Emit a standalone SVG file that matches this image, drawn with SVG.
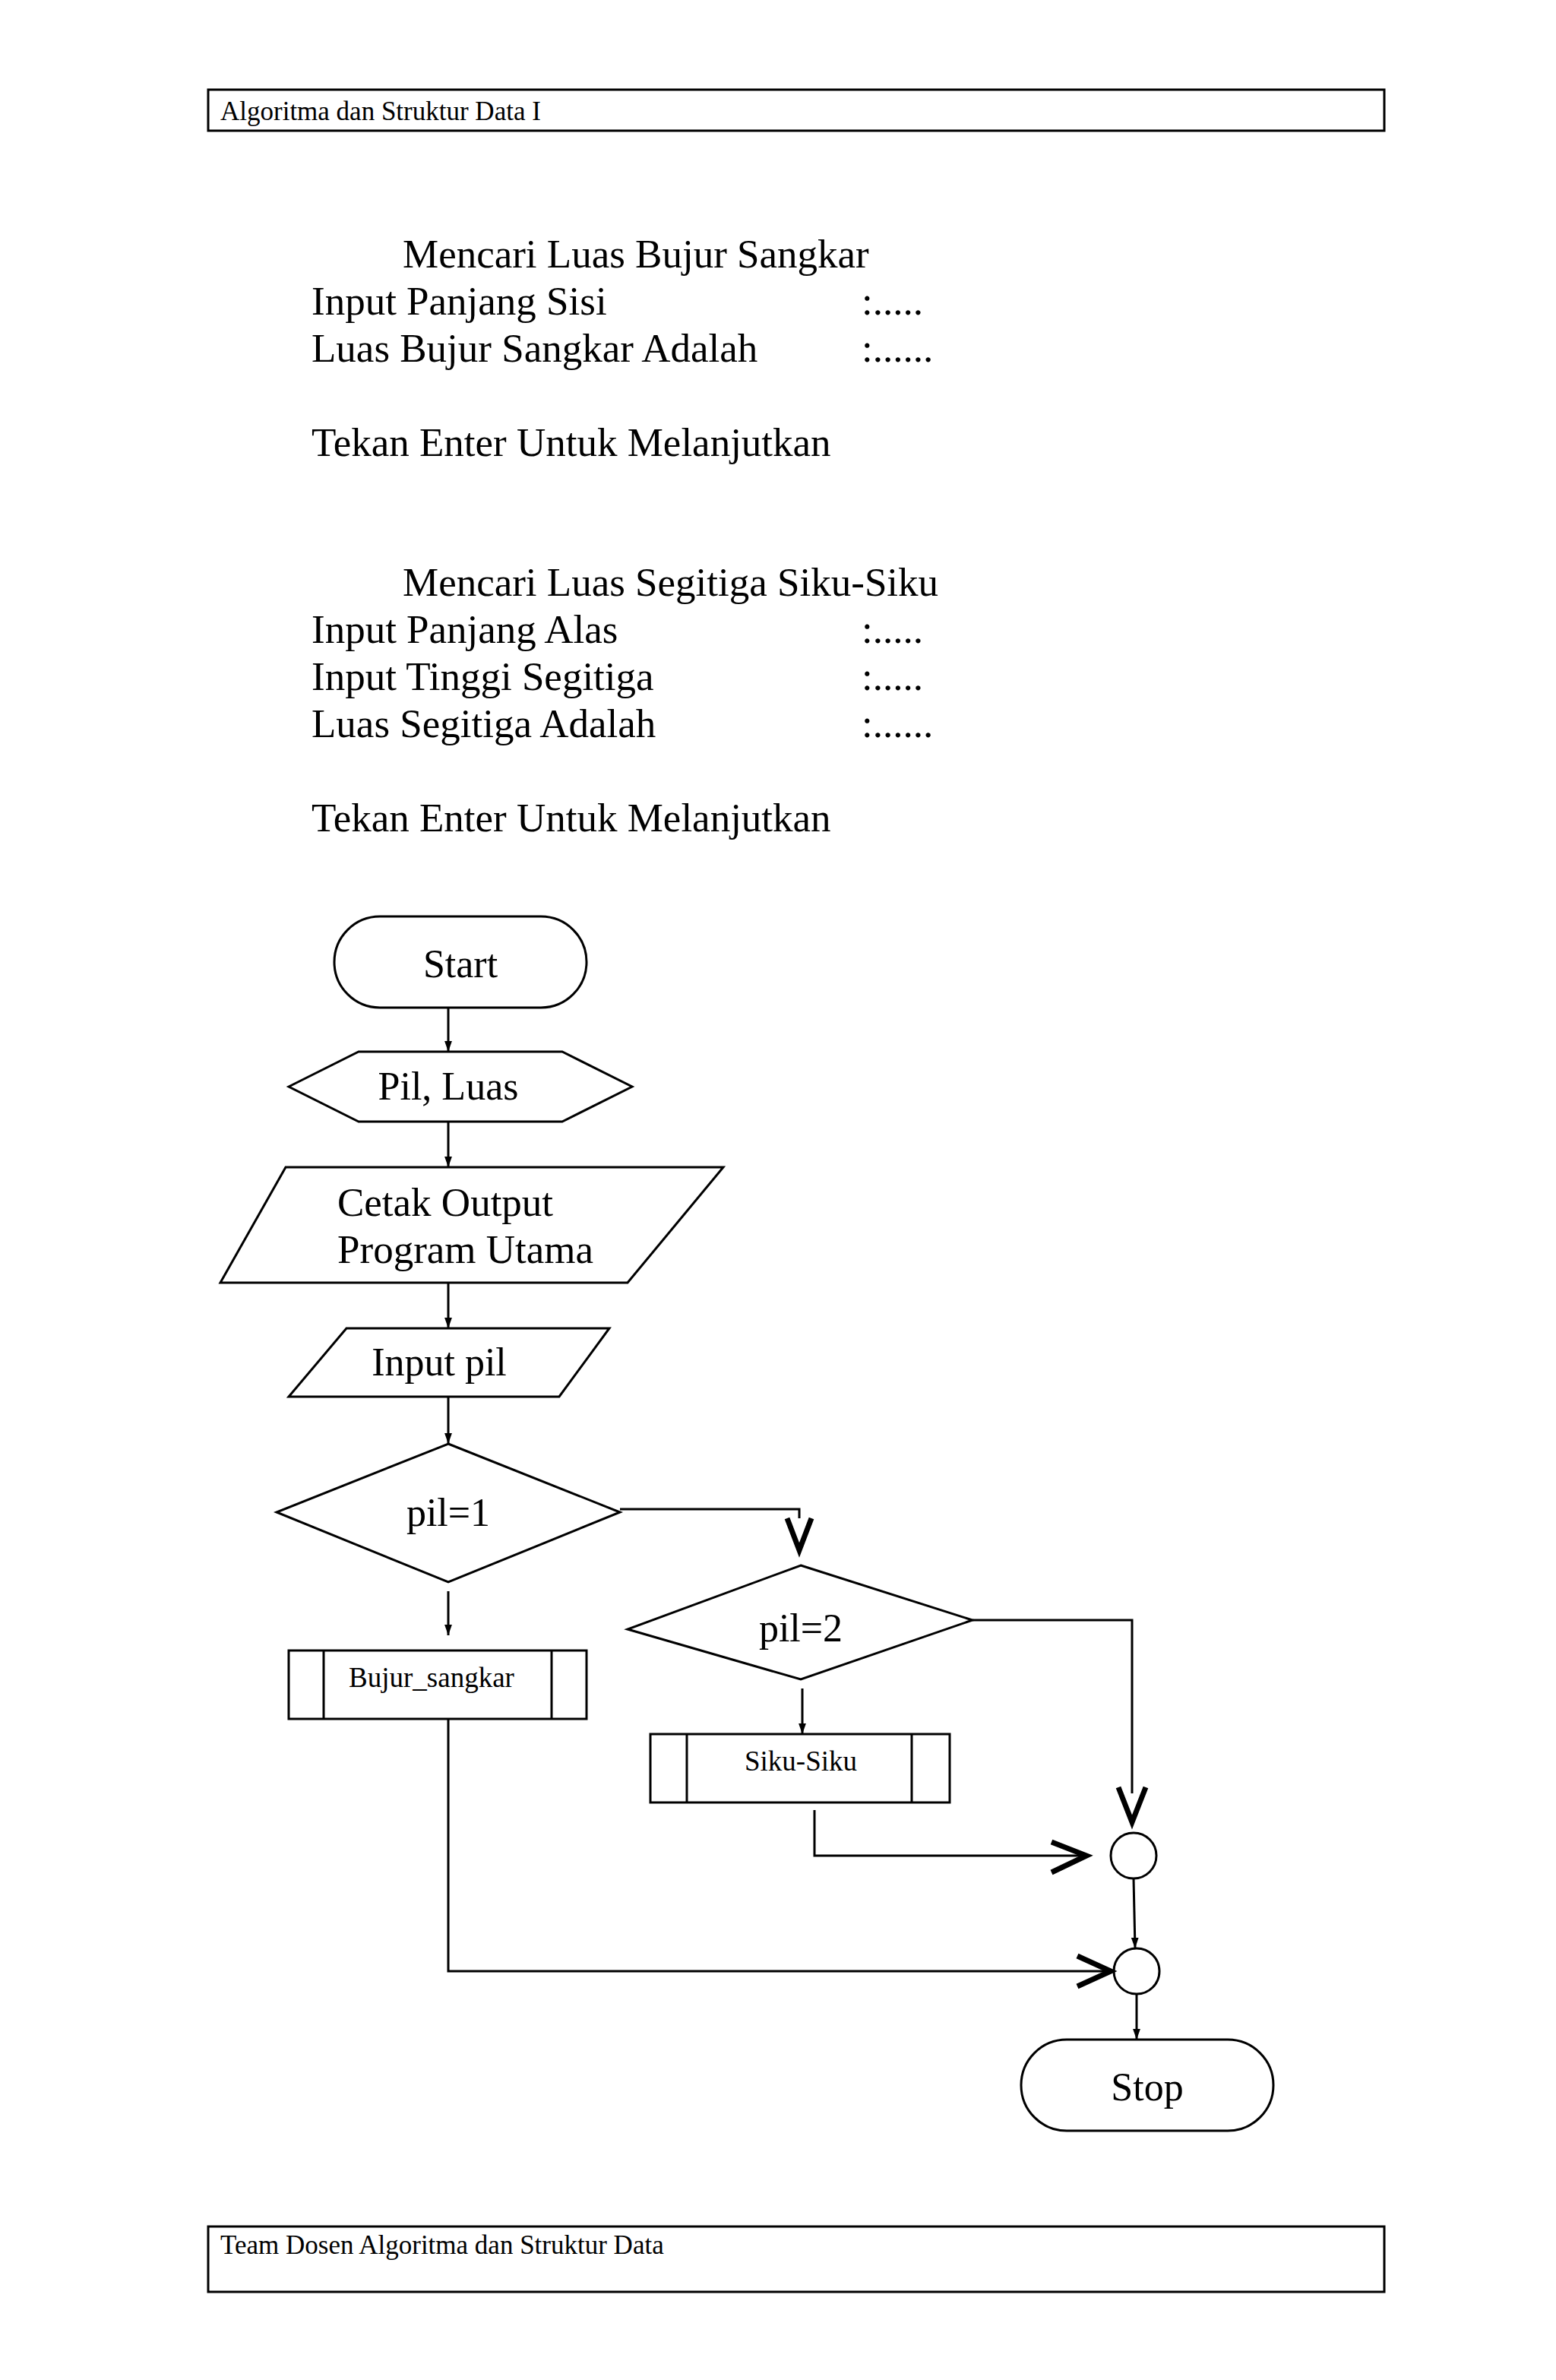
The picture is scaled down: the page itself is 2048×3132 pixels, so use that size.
<svg xmlns="http://www.w3.org/2000/svg" width="2048" height="3132" viewBox="0 0 2048 3132">
<style>
.s{fill:#fff;stroke:#000;stroke-width:3}
.t{font-family:"Liberation Serif",serif;fill:#000}
.b{font-size:53px}
.n{font-size:52px;text-anchor:middle}
.sm{font-size:37px;text-anchor:middle}
.h{font-size:35px}
.c{fill:none;stroke:#000;stroke-width:3}
.v{fill:none;stroke:#000;stroke-width:7}
</style>
<defs><marker id="a" markerWidth="14" markerHeight="20" refX="20" refY="7" orient="auto" markerUnits="userSpaceOnUse" viewBox="0 0 20 14"><path d="M0,0 L20,7 L0,14z" fill="#000"/></marker></defs>
<rect width="2048" height="3132" fill="#fff"/>
<g id="header"><rect x="274" y="118" width="1548" height="54" class="s" stroke-width="2"/><text x="290" y="158" class="t h">Algoritma dan Struktur Data I</text></g>
<g id="text1" class="t b">
<text x="530" y="352">Mencari Luas Bujur Sangkar</text>
<text x="410" y="414">Input Panjang Sisi</text><text x="1134" y="414">:.....</text>
<text x="410" y="476">Luas Bujur Sangkar Adalah</text><text x="1134" y="476">:......</text>
<text x="410" y="600">Tekan Enter Untuk Melanjutkan</text>
<text x="530" y="784">Mencari Luas Segitiga Siku-Siku</text>
<text x="410" y="846">Input Panjang Alas</text><text x="1134" y="846">:.....</text>
<text x="410" y="908">Input Tinggi Segitiga</text><text x="1134" y="908">:.....</text>
<text x="410" y="970">Luas Segitiga Adalah</text><text x="1134" y="970">:......</text>
<text x="410" y="1094">Tekan Enter Untuk Melanjutkan</text>
</g>
<g id="start"><rect x="440" y="1206" width="332" height="120" rx="60" class="s"/><text x="606" y="1286" class="t n">Start</text></g>
<g id="pilluas"><polygon points="380,1430 472,1384 740,1384 832,1430 740,1476 472,1476" class="s"/><text x="590" y="1447" class="t n">Pil, Luas</text></g>
<g id="cetak"><polygon points="376,1536 952,1536 826,1688 290,1688" class="s"/><text x="444" y="1600" class="t b">Cetak Output</text><text x="444" y="1662" class="t b">Program Utama</text></g>
<g id="inputpil"><polygon points="456,1748 802,1748 736,1838 380,1838" class="s"/><text x="578" y="1810" class="t n">Input pil</text></g>
<g id="pil1"><polygon points="590,1900 816,1990 590,2082 364,1990" class="s"/><text x="590" y="2008" class="t n">pil=1</text></g>
<g id="bujur"><rect x="380" y="2172" width="392" height="90" class="s"/><line x1="426" y1="2172" x2="426" y2="2262" class="c"/><line x1="726" y1="2172" x2="726" y2="2262" class="c"/><text x="568" y="2220" class="t sm">Bujur_sangkar</text></g>
<g id="pil2"><polygon points="1054,2060 1280,2132 1054,2210 826,2144" class="s"/><text x="1054" y="2160" class="t n">pil=2</text></g>
<g id="siku"><rect x="856" y="2282" width="394" height="90" class="s"/><line x1="904" y1="2282" x2="904" y2="2372" class="c"/><line x1="1200" y1="2282" x2="1200" y2="2372" class="c"/><text x="1054" y="2330" class="t sm">Siku-Siku</text></g>
<g id="j1"><circle cx="1492" cy="2442" r="30" class="s"/></g>
<g id="j2"><circle cx="1496" cy="2594" r="30" class="s"/></g>
<g id="stop"><rect x="1344" y="2684" width="332" height="120" rx="60" class="s"/><text x="1510" y="2764" class="t n">Stop</text></g>
<g id="connectors">
<line x1="590" y1="1326" x2="590" y2="1384" class="c" marker-end="url(#a)"/>
<line x1="590" y1="1476" x2="590" y2="1536" class="c" marker-end="url(#a)"/>
<line x1="590" y1="1688" x2="590" y2="1748" class="c" marker-end="url(#a)"/>
<line x1="590" y1="1838" x2="590" y2="1900" class="c" marker-end="url(#a)"/>
<line x1="590" y1="2094" x2="590" y2="2152" class="c" marker-end="url(#a)"/>
<polyline points="816,1986 1052,1986 1052,1998" class="c"/>
<polyline points="1036,1998 1052,2040 1068,1998" class="v"/>
<line x1="1056" y1="2222" x2="1056" y2="2282" class="c" marker-end="url(#a)"/>
<polyline points="1280,2132 1490,2132 1490,2360" class="c"/>
<polyline points="1472,2352 1490,2398 1508,2352" class="v"/>
<polyline points="1072,2382 1072,2442 1426,2442" class="c"/>
<polyline points="1384,2424 1430,2442 1384,2464" class="v"/>
<line x1="1492" y1="2472" x2="1494" y2="2564" class="c" marker-end="url(#a)"/>
<polyline points="590,2262 590,2594 1460,2594" class="c"/>
<polyline points="1418,2574 1462,2594 1418,2614" class="v"/>
<line x1="1496" y1="2624" x2="1496" y2="2684" class="c" marker-end="url(#a)"/>
</g>
<g id="footer"><rect x="274" y="2930" width="1548" height="86" class="s" stroke-width="2"/><text x="290" y="2966" class="t h">Team Dosen Algoritma dan Struktur Data</text></g>
</svg>
